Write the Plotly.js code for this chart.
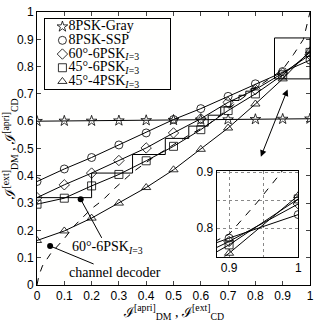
<!DOCTYPE html>
<html><head><meta charset="utf-8">
<script src="https://cdn.plot.ly/plotly-3.0.1.min.js"></script>
<style>html,body{margin:0;padding:0;background:#fff}#c{width:320px;height:320px}</style>
</head><body><div id="c"></div>
<script>
const xs = [0,0.1,0.2,0.3,0.4,0.5,0.6,0.7,0.8,0.9,1];
const gray8 = [0.600,0.601,0.601,0.602,0.603,0.604,0.605,0.606,0.607,0.608,0.609];
const ssp8 = [0.379,0.425,0.467,0.513,0.557,0.606,0.646,0.691,0.737,0.782,0.824];
const psk60_6 = [0.320,0.367,0.410,0.456,0.502,0.557,0.609,0.669,0.716,0.776,0.843];
const psk45_6 = [0.296,0.318,0.363,0.405,0.455,0.508,0.569,0.639,0.700,0.770,0.852];
const psk45_4 = [0.163,0.198,0.245,0.300,0.357,0.422,0.497,0.575,0.663,0.755,0.858];
const decX = [0,0.007,0.02,0.05,0.1,0.134,0.2,0.24,0.28,0.354,0.43,0.5,0.55,0.63,0.7,0.8,0.87,0.9,0.94,0.976,1];
const decY = [0,0.035,0.07,0.115,0.17,0.214,0.28,0.31,0.35,0.416,0.47,0.515,0.545,0.59,0.645,0.72,0.77,0.789,0.845,0.9,1];
const trajX = [0,0.2,0.2,0.35,0.35,0.47,0.47,0.556,0.556,0.627,0.627,0.673,0.673,0.71,0.71,0.74,0.74,0.765,0.765,0.785,0.785,0.8,0.8];
const trajY = [0.32,0.32,0.41,0.41,0.478,0.478,0.537,0.537,0.582,0.582,0.622,0.622,0.652,0.652,0.676,0.676,0.695,0.695,0.71,0.71,0.72,0.72,0.728];
const names = ['8PSK-Gray','8PSK-SSP','60°-6PSK<sub><i>I</i>=3</sub>','45°-6PSK<sub><i>I</i>=3</sub>','45°-4PSK<sub><i>I</i>=3</sub>'];
const series = [gray8, ssp8, psk60_6, psk45_6, psk45_4];
const symbols = ['star-open','circle-open','diamond-open','square-open','triangle-up-open'];

const traces = [];
function addAll(xa, ya){
  traces.push({x:decX, y:decY, xaxis:xa, yaxis:ya, mode:'lines', line:{color:'#000', width:1, dash:'7px,7px'}, hoverinfo:'skip'});
  if(xa==='x') traces.push({x:trajX, y:trajY, xaxis:xa, yaxis:ya, mode:'lines', line:{color:'#000', width:1}});
  series.forEach((s,i)=>{
    traces.push({x:xs, y:s, xaxis:xa, yaxis:ya, mode:'lines+markers', name:names[i],
      line:{color:'#000', width:1}, marker:{symbol:symbols[i], size:8, color:'#000', line:{width:0.8,color:'#000'}}});
  });
}
addAll('x','y');
addAll('x2','y2');
// legend box: one marker + label per series, on its own small axis pair
traces.push({x:names.map(()=>0.14), y:names.map((n,i)=>i), xaxis:'x3', yaxis:'y3', mode:'markers+text', text:names, textposition:'middle right',
  textfont:{family:'Liberation Serif', size:14, color:'#000'},
  marker:{symbol:symbols, size:8, color:'#000', line:{width:0.8,color:'#000'}}});

const tickFont = {family:'Liberation Sans, Arial, sans-serif', size:12, color:'#000'};
const serif = {family:'Liberation Serif, Times New Roman, serif', size:14, color:'#000'};
const ticks01 = [0,0.1,0.2,0.3,0.4,0.5,0.6,0.7,0.8,0.9,1];
const ticks01txt = ['0','0.1','0.2','0.3','0.4','0.5','0.6','0.7','0.8','0.9','1'];
const boxAxis = {showline:true, mirror:true, linecolor:'#000', linewidth:1, showgrid:false, zeroline:false, showticklabels:false, ticks:''};
const layout = {
  width:320, height:320,
  margin:{l:37, r:10, t:12, b:35},
  paper_bgcolor:'#ffffff', plot_bgcolor:'#fffffe',
  showlegend:false,
  xaxis:{range:[0,1], tickvals:ticks01, ticktext:ticks01txt, ticks:'inside', ticklen:4, mirror:'ticks', showline:true, linecolor:'#000', linewidth:1, showgrid:false, zeroline:false, tickfont:tickFont},
  yaxis:{range:[0,1], tickvals:ticks01, ticktext:ticks01txt, ticks:'inside', ticklen:4, mirror:'ticks', showline:true, linecolor:'#000', linewidth:1, showgrid:false, zeroline:false, tickfont:tickFont,
    title:{text:'ℐ<sup>[ext]</sup><sub>DM</sub> , ℐ<sup>[apri]</sup><sub>CD</sub>', font:serif, standoff:6}},
  xaxis2:{domain:[0.658,0.957], range:[0.882,1.0], anchor:'y2', tickvals:[0.9,0.95,1], ticktext:['0.9','','1'], ticks:'', showline:true, mirror:true, linecolor:'#000', linewidth:1, showgrid:true, gridcolor:'#888', griddash:'dot', gridwidth:1, zeroline:false, tickfont:tickFont},
  yaxis2:{domain:[0.104,0.418], range:[0.749,0.902], anchor:'x2', tickvals:[0.8,0.85,0.9], ticktext:['0.8','','0.9'], ticks:'', showline:true, mirror:true, linecolor:'#000', linewidth:1, showgrid:true, gridcolor:'#888', griddash:'dot', gridwidth:1, zeroline:false, tickfont:tickFont},
  xaxis3:Object.assign({domain:[0.029,0.487], range:[0,1], autorange:false, anchor:'y3'}, boxAxis),
  yaxis3:Object.assign({domain:[0.718,0.974], range:[4.55,-0.55], autorange:false, anchor:'x3'}, boxAxis),
  shapes:[{type:'rect', xref:'x', yref:'y', x0:0.87, x1:1, y0:0.755, y1:0.905, line:{color:'#000', width:1}}],
  annotations:[
    {xref:'paper', yref:'paper', x:0.5, y:-0.1, yanchor:'middle', xanchor:'center', showarrow:false, text:'ℐ<sup>[apri]</sup><sub>DM</sub> , ℐ<sup>[ext]</sup><sub>CD</sub>', font:serif},
    {xref:'x', yref:'y', axref:'x', ayref:'y', x:0.82, y:0.47, ax:0.92, ay:0.722, text:'', showarrow:true, arrowhead:2, startarrowhead:2, arrowside:'end+start', arrowsize:1.3, startarrowsize:1.3, arrowwidth:1, arrowcolor:'#000'},
    {xref:'x', yref:'y', axref:'x', ayref:'y', x:0.16, y:0.314, ax:0.257, ay:0.136, text:'60°-6PSK<sub><i>I</i>=3</sub>', font:serif, showarrow:true, arrowhead:6, arrowsize:1.5, arrowwidth:1, arrowcolor:'#000', standoff:0},
    {xref:'x', yref:'y', axref:'x', ayref:'y', x:0.048, y:0.143, ax:0.287, ay:0.044, text:'channel decoder', font:serif, showarrow:true, arrowhead:6, arrowsize:1.5, arrowwidth:1, arrowcolor:'#000', standoff:0}
  ]
};
Plotly.newPlot('c', traces, layout, {staticPlot:true});
</script></body></html>
